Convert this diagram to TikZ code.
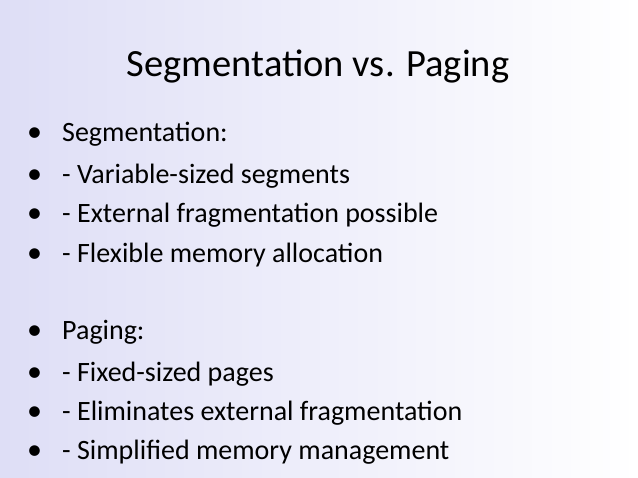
\documentclass[tikz,border=0pt]{standalone}
\usepackage{fontspec}
\setmainfont{Carlito}
\begin{document}
\begin{tikzpicture}[x=1bp,y=-1bp,
  item/.style={anchor=base west,inner sep=0pt,font=\fontsize{28bp}{32bp}\selectfont},
  dot/.style={anchor=base west,inner sep=0pt,font=\fontsize{30bp}{32bp}\selectfont}]
\shade[left color={rgb,255:red,222;green,222;blue,246},right color=white] (0,0) rectangle (638,478);
\useasboundingbox (0,0) rectangle (638,478);
\node[anchor=base,inner sep=0pt,font=\fontsize{38.5bp}{42bp}\selectfont] (title) at (318,77) {Segmentation vs. Paging};
\foreach \t/\y [count=\i] in {Segmentation:/142,- Variable-sized segments/184,- External fragmentation possible/223,- Flexible memory allocation/262,Paging:/339,- Fixed-sized pages/381,- Eliminates external fragmentation/420,- Simplified memory management/459}{
  \node[dot] (b\i) at (27,\y) {•};
  \node[item] (t\i) at (62,\y) {\t};
}
\end{tikzpicture}
\end{document}
